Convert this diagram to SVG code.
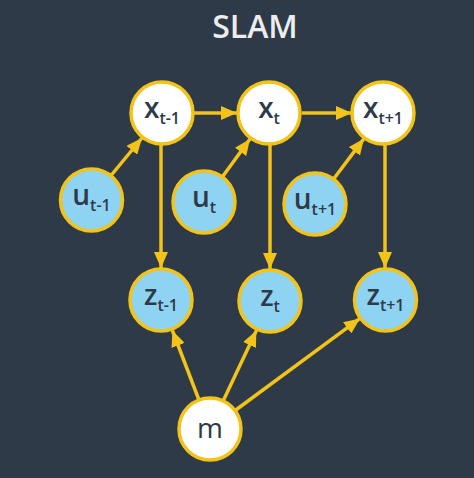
<svg xmlns="http://www.w3.org/2000/svg" width="474" height="478" viewBox="0 0 474 478">
<defs>
<style>
.bg{fill:#2e3a48}
.title{font-family:"Open Sans","Liberation Sans",sans-serif;font-size:32px;font-weight:600;fill:#ededed;text-anchor:middle}
.nw{fill:#ffffff;stroke:#f2c318;stroke-width:3.5}
.nb{fill:#8fd3f2;stroke:#f2c318;stroke-width:3.5}
.lbl{font-family:"Open Sans","Liberation Sans",sans-serif;font-size:28px;font-weight:600;fill:#2e3a48;text-anchor:middle}
.sub{font-size:16px}
.reg{font-weight:400}
.edge{stroke:#f2c318;stroke-width:3.5;fill:none;marker-end:url(#ah)}
</style>
<marker id="ah" markerUnits="userSpaceOnUse" markerWidth="16" markerHeight="14" viewBox="0 0 16 14" refX="16" refY="7" orient="auto">
<path d="M0,0 L16,7 L0,14 Z" fill="#f2c318"/>
</marker>
</defs>
<rect class="bg" x="0" y="0" width="474" height="478"/>
<text class="title" x="255" y="38">SLAM</text>
<g id="connectors">
<line class="edge" x1="194" y1="113" x2="237" y2="113"/>
<line class="edge" x1="302" y1="113" x2="352" y2="113"/>
<line class="edge" x1="110.6" y1="176" x2="142" y2="138"/>
<line class="edge" x1="222.3" y1="177" x2="250" y2="139"/>
<line class="edge" x1="333.6" y1="179" x2="364" y2="138.6"/>
<line class="edge" x1="161" y1="145" x2="161" y2="268"/>
<line class="edge" x1="270" y1="145" x2="270" y2="269"/>
<line class="edge" x1="385" y1="145" x2="385" y2="268"/>
<line class="edge" x1="198.6" y1="399" x2="172.4" y2="330.5"/>
<line class="edge" x1="223.6" y1="400" x2="256.4" y2="330.5"/>
<line class="edge" x1="235.8" y1="410" x2="360" y2="318.4"/>
</g>
<g id="x_tm1"><circle class="nw" cx="162" cy="113" r="31"/><text class="lbl" x="162" y="118">x<tspan class="sub" dy="6">t-1</tspan></text></g>
<g id="x_t"><circle class="nw" cx="269" cy="113" r="31"/><text class="lbl" x="269" y="118">x<tspan class="sub" dy="6">t</tspan></text></g>
<g id="x_tp1"><circle class="nw" cx="383" cy="113" r="31"/><text class="lbl" x="383" y="118">x<tspan class="sub" dy="6">t+1</tspan></text></g>
<g id="u_tm1"><circle class="nb" cx="91.5" cy="200" r="31"/><text class="lbl" x="91.5" y="205">u<tspan class="sub" dy="6">t-1</tspan></text></g>
<g id="u_t"><circle class="nb" cx="204" cy="202" r="31"/><text class="lbl" x="204" y="207">u<tspan class="sub" dy="6">t</tspan></text></g>
<g id="u_tp1"><circle class="nb" cx="315" cy="204" r="31"/><text class="lbl" x="315" y="209">u<tspan class="sub" dy="6">t+1</tspan></text></g>
<g id="z_tm1"><circle class="nb" cx="161" cy="300" r="31"/><text class="lbl" x="161" y="305">z<tspan class="sub" dy="6">t-1</tspan></text></g>
<g id="z_t"><circle class="nb" cx="270" cy="301" r="31"/><text class="lbl" x="270" y="306">z<tspan class="sub" dy="6">t</tspan></text></g>
<g id="z_tp1"><circle class="nb" cx="385.5" cy="300" r="31"/><text class="lbl" x="385.5" y="305">z<tspan class="sub" dy="6">t+1</tspan></text></g>
<g id="m"><circle class="nw" cx="210" cy="429" r="31"/><text class="lbl reg" x="210" y="438">m</text></g>
</svg>
